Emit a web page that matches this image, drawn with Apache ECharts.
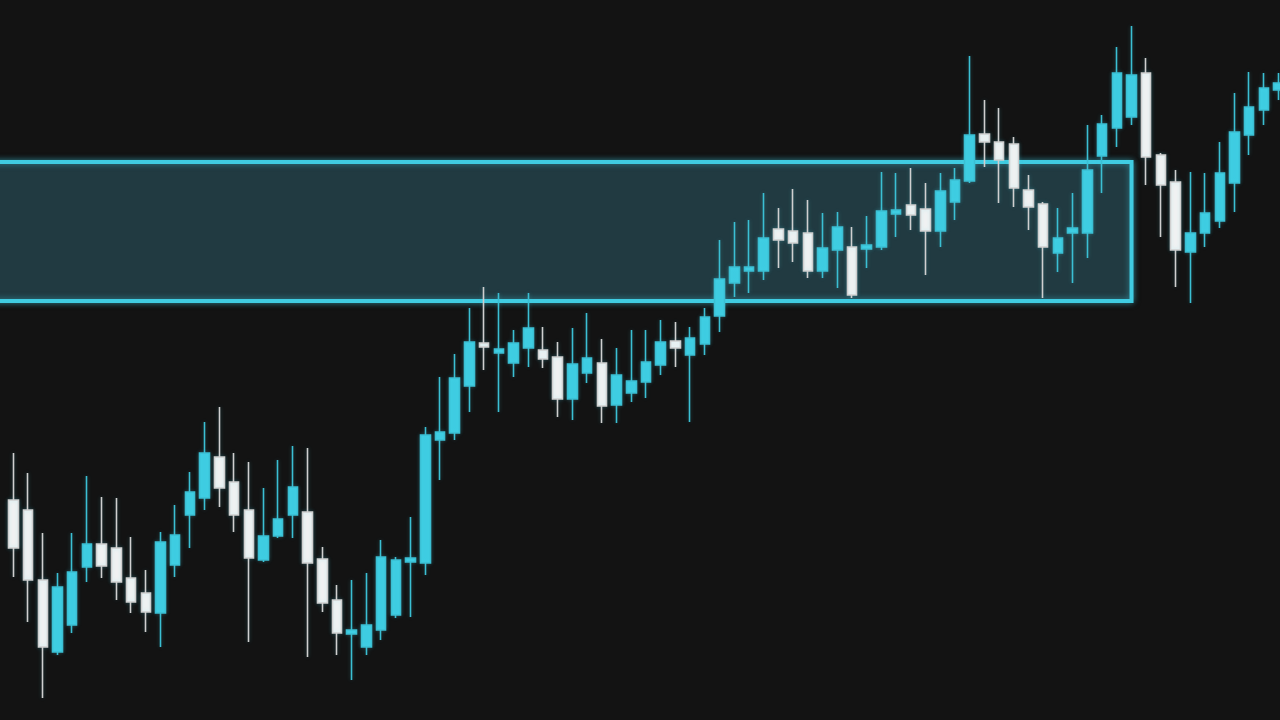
<!DOCTYPE html>
<html>
<head>
<meta charset="utf-8">
<title>candles</title>
<script src="https://cdn.jsdelivr.net/npm/echarts@6/dist/echarts.min.js"></script>
<style>
  html, body { margin: 0; padding: 0; background: #131313; }
  #chart { width: 1280px; height: 720px; }
</style>
</head>
<body>
<div id="chart"></div>
<script>
// candle values
const opens = [220, 210, 140, 68, 95, 153, 176, 172, 142, 127, 107, 155, 205, 222, 263, 238, 210, 160, 184, 205,
  208, 161, 120, 86, 73, 90, 105, 158, 157, 280, 287, 334, 377, 367, 357, 372, 370, 363, 321, 347,
  357, 315, 327, 338, 355, 379, 365, 376, 404, 437, 449, 449, 491, 489, 487, 449, 470, 473, 471, 473,
  506, 515, 511, 489, 518, 539, 586, 578, 576, 530, 516, 467, 487, 487, 564, 592, 603, 647, 565, 538,
  468, 487, 499, 537, 585, 610, 630];
const closes = [172, 140, 73, 133, 148, 176, 154, 138, 118, 108, 178, 185, 228, 267, 232, 205, 162, 184, 201, 233,
  157, 117, 87, 90, 95, 163, 160, 162, 285, 288, 342, 378, 373, 371, 377, 392, 361, 321, 356, 362,
  314, 345, 339, 358, 378, 372, 382, 403, 441, 453, 453, 482, 480, 477, 449, 472, 493, 425, 475, 509,
  510, 505, 489, 529, 540, 585, 578, 560, 532, 513, 473, 482, 492, 550, 596, 647, 645, 563, 535, 470,
  487, 507, 547, 588, 613, 632, 637];
const lows = [143, 98, 22, 65, 87, 138, 142, 120, 107, 88, 73, 143, 172, 210, 213, 188, 78, 158, 182, 182,
  63, 108, 65, 40, 65, 80, 102, 103, 145, 240, 280, 308, 350, 308, 343, 353, 352, 303, 300, 337,
  297, 297, 318, 322, 345, 353, 298, 365, 388, 423, 427, 440, 452, 458, 442, 442, 432, 422, 452, 470,
  483, 490, 445, 473, 500, 537, 553, 517, 513, 490, 422, 448, 437, 462, 527, 573, 595, 535, 483, 433,
  417, 473, 492, 508, 565, 595, 620];
const highs = [267, 247, 187, 147, 187, 244, 223, 222, 183, 150, 188, 215, 248, 298, 313, 267, 258, 232, 260, 274,
  272, 173, 135, 140, 147, 180, 163, 203, 293, 343, 366, 412, 433, 427, 390, 427, 393, 378, 392, 407,
  381, 372, 390, 390, 400, 398, 393, 412, 480, 498, 500, 527, 512, 531, 520, 507, 508, 493, 504, 548,
  547, 552, 537, 547, 552, 664, 620, 612, 583, 545, 518, 512, 527, 595, 605, 673, 694, 662, 567, 550,
  548, 547, 578, 627, 648, 647, 647];

// supply zone (price band) and the candle where it stops
const zoneTop = 558;
const zoneBottom = 419;
const zoneEnd = 76;

const days = [];
for (let i = 0; i < opens.length; i++) {
  days.push('D' + (i + 1));
}

// echarts wants [open, close, low, high]
const candles = opens.map((o, i) => [o, closes[i], lows[i], highs[i]]);

const chart = echarts.init(document.getElementById('chart'));

const option = {
  backgroundColor: '#131313',
  animation: false,
  grid: {
    left: 6,
    top: 0,
    width: 1280,
    height: 720,
    outerBoundsMode: 'none',
  },
  xAxis: {
    type: 'category',
    data: days,
    boundaryGap: true,
    show: false,
  },
  yAxis: {
    type: 'value',
    min: 0,
    max: 720,
    show: false,
    splitLine: { show: false },
  },
  series: [
    {
      type: 'candlestick',
      data: candles,
      barWidth: 10,
      itemStyle: {
        color: '#3ecde2',
        color0: '#f2f2f2',
        borderColor: '#3bbfd3',
        borderColor0: '#cfcfcf',
        borderWidth: 1.6,
        shadowBlur: 4,
        shadowColor: 'rgba(80,220,240,0.25)',
      },
    },
  ],
};

chart.setOption(option);

// the zone runs off the left edge of the screen, so its left side is
// placed past the canvas; its top comes from the y axis
const topPx = chart.convertToPixel({ yAxisIndex: 0 }, zoneTop);
chart.setOption({
  series: [
    {
      markArea: {
        silent: true,
        itemStyle: {
          color: '#213a41',
          borderColor: '#40cce2',
          borderWidth: 4,
          shadowBlur: 6,
          shadowColor: 'rgba(64,204,226,0.5)',
        },
        data: [
          [
            { x: -20, y: topPx },
            { coord: [zoneEnd, zoneBottom] },
          ],
        ],
      },
    },
  ],
});
</script>
</body>
</html>
